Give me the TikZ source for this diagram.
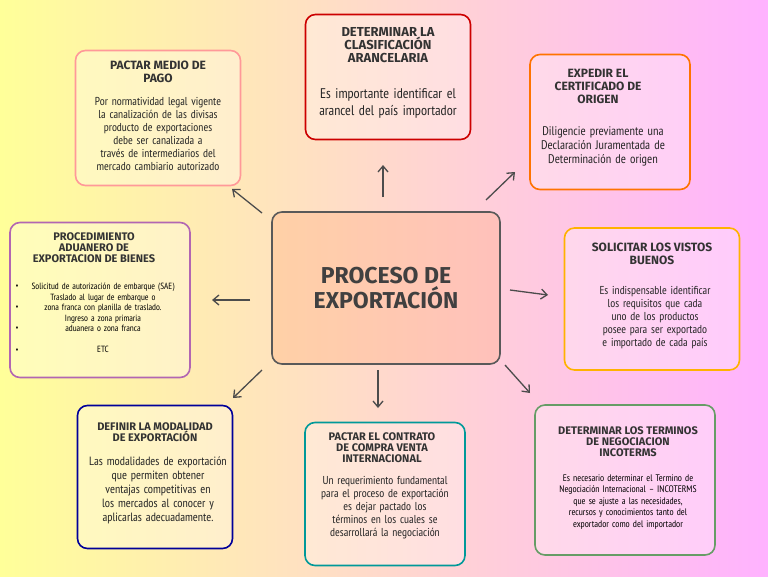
\documentclass[tikz,border=0pt]{standalone}
\usepackage{fontspec}
\setmainfont{PT Sans Narrow}
\newfontfamily\ttl{Fira Sans}
\usetikzlibrary{arrows.meta}
\hyphenpenalty=10000
\begin{document}
\begin{tikzpicture}[x=1pt,y=-1pt,
  card/.style={draw=#1,line width=1.6pt,rounded corners=10pt,fill=white,fill opacity=0.3,text opacity=1},
  hd/.style={font=\ttl\bfseries\fontsize{11}{11}\selectfont,align=center,text=black!80},
  bd/.style={font=\fontsize{11.5}{13}\selectfont,align=center,text=black!85},
  arr/.style={-{Straight Barb[length=6pt,width=10pt]},line width=1.3pt,draw=black!70}]
\shade[left color=yellow!40!white,right color=magenta!30!white] (0,0) rectangle (768,576);
\useasboundingbox (0,0) rectangle (768,576);
% center
\node[card=black!65,fill=pink!60!orange,fill opacity=0.3,minimum width=228pt,minimum height=152pt] (c) at (386,288) {};
\node[font=\ttl\bfseries\fontsize{23}{25}\selectfont,align=center,text=black!75] (ct) at (386,288) {PROCESO DE\\EXPORTACIÓN};
% boxes
\node[card=red!80!black,minimum width=165pt,minimum height=125pt] (b1) at (388,77) {};
\node[hd,font=\ttl\bfseries\fontsize{13}{13}\selectfont] (b1h) at (388,45) {DETERMINAR LA\\CLASIFICACIÓN\\ARANCELARIA};
\node[bd,font=\fontsize{14}{17}\selectfont,text width=145pt] (b1t) at (388,103) {Es importante identificar el arancel del país importador};

\node[card=pink!80!red,minimum width=165pt,minimum height=135pt] (b2) at (158,118) {};
\node[hd,font=\ttl\bfseries\fontsize{12}{13}\selectfont] (b2h) at (158,72) {PACTAR MEDIO DE\\PAGO};
\node[bd,text width=145pt] (b2t) at (158,134) {Por normatividad legal vigente la canalización de las divisas producto de exportaciones debe ser canalizada a través de intermediarios del mercado cambiario autorizado};

\node[card=orange!90!red,minimum width=160pt,minimum height=135pt] (b3) at (610,122) {};
\node[hd,font=\ttl\bfseries\fontsize{12}{13}\selectfont] (b3h) at (598,86) {EXPEDIR EL\\CERTIFICADO DE\\ORIGEN};
\node[bd,font=\fontsize{12.5}{14}\selectfont,text width=140pt] (b3t) at (603,146) {Diligencie previamente una Declaración Juramentada de Determinación de origen};

\node[card=violet!60,minimum width=180pt,minimum height=155pt] (b4) at (100,300) {};
\node[hd] (b4h) at (94,248) {PROCEDIMIENTO\\ADUANERO DE\\EXPORTACION DE BIENES};
\node[font=\fontsize{9}{10.5}\selectfont,text width=145pt,align=center] (b4t) at (103,318) {Solicitud de autorización de embarque (SAE)\\Traslado al lugar de embarque o zona franca con planilla de traslado.\\Ingreso a zona primaria aduanera o zona franca\\[10.5pt]ETC};
\foreach \y/\n in {287/p1,308/p2,329/p3,351/p4} \node[font=\fontsize{8}{8}\selectfont,inner sep=0pt] (\n) at (17,\y) {\textbullet};

\node[card=orange!60!yellow,minimum width=175pt,minimum height=142pt] (b5) at (652,299) {};
\node[hd,font=\ttl\bfseries\fontsize{12}{13}\selectfont] (b5h) at (652,254) {SOLICITAR LOS VISTOS\\BUENOS};
\node[bd,text width=130pt] (b5t) at (655,318) {Es indispensable identificar los requisitos que cada uno de los productos posee para ser exportado e importado de cada país};

\node[card=blue!60!black,minimum width=155pt,minimum height=143pt] (b6) at (155,477) {};
\node[hd] (b6h) at (155,432) {DEFINIR LA MODALIDAD\\DE EXPORTACIÓN};
\node[bd,font=\fontsize{12}{14}\selectfont,text width=140pt] (b6t) at (158,490) {Las modalidades de exportación que permiten obtener ventajas competitivas en los mercados al conocer y aplicarlas adecuadamente.};

\node[card=teal!80!cyan,minimum width=160pt,minimum height=143pt] (b7) at (385,494) {};
\node[hd] (b7h) at (382,448) {PACTAR EL CONTRATO\\DE COMPRA VENTA\\INTERNACIONAL};
\node[bd,text width=145pt] (b7t) at (385,508) {Un requerimiento fundamental para el proceso de exportación es dejar pactado los términos en los cuales se desarrollará la negociación};

\node[card=green!35!black!60,minimum width=180pt,minimum height=150pt] (b8) at (625,480) {};
\node[hd] (b8h) at (628,442) {DETERMINAR LOS TERMINOS\\DE NEGOCIACION\\INCOTERMS};
\node[font=\fontsize{9.5}{11.5}\selectfont,align=center,text width=170pt] (b8t) at (628,502) {Es necesario determinar el Termino de Negociación Internacional – INCOTERMS que se ajuste a las necesidades, recursos y conocimientos tanto del exportador como del importador};
% arrows
\coordinate (a1) at (383,197); \coordinate (a1e) at (383,165);
\coordinate (a2) at (262,213); \coordinate (a2e) at (232,189);
\coordinate (a3) at (486,200); \coordinate (a3e) at (515,172);
\coordinate (a4) at (250,300); \coordinate (a4e) at (212,300);
\coordinate (a5) at (510,290); \coordinate (a5e) at (548,295);
\coordinate (a6) at (262,370); \coordinate (a6e) at (233,398);
\coordinate (a7) at (378,370); \coordinate (a7e) at (378,408);
\coordinate (a8) at (505,365); \coordinate (a8e) at (530,393);
\foreach \i in {1,...,8} \draw[arr] (a\i) -- (a\i e);
\end{tikzpicture}
\end{document}
